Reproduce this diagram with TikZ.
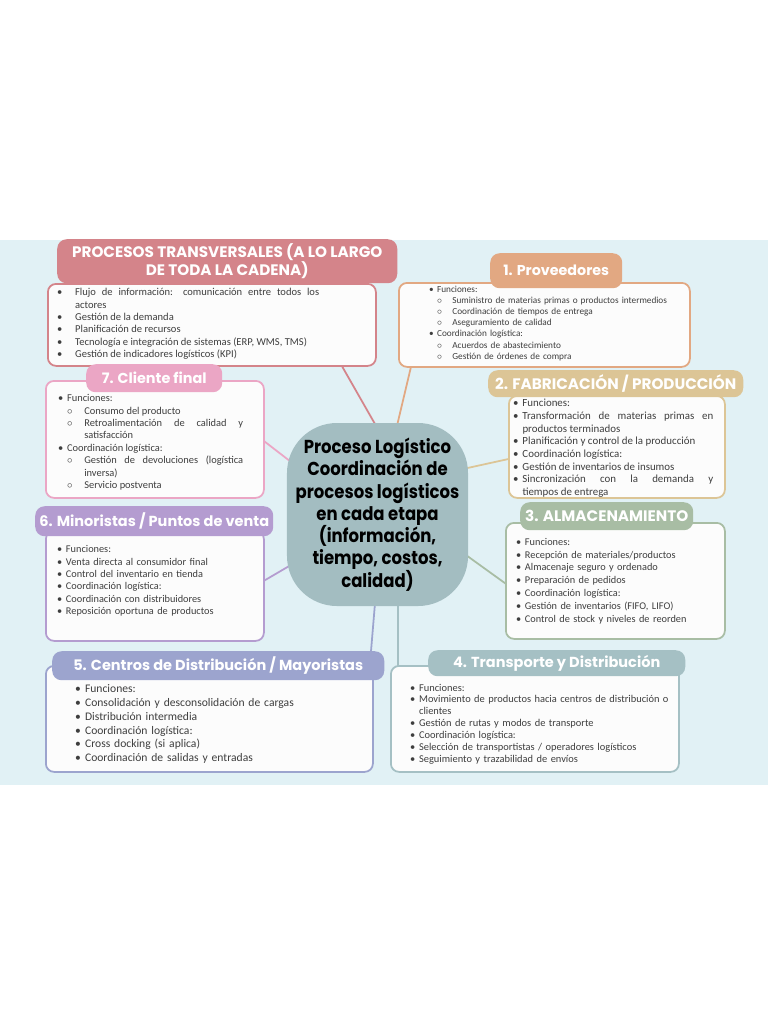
\documentclass[tikz,border=0pt]{standalone}
\usepackage{fontspec}
\setmainfont{Carlito}
\newfontfamily\titlefont{Poppins}
\newfontfamily\hubfont{Poppins}[FakeStretch=0.88]
\usetikzlibrary{positioning, calc, backgrounds}

\definecolor{bgblue}{RGB}{225,241,245}
\definecolor{rosec}{RGB}{212,132,138}
\definecolor{tanc}{RGB}{226,168,130}
\definecolor{pinkc}{RGB}{235,166,197}
\definecolor{beigec}{RGB}{220,197,150}
\definecolor{sagec}{RGB}{168,189,164}
\definecolor{purplec}{RGB}{180,156,208}
\definecolor{peric}{RGB}{156,164,206}
\definecolor{tealc}{RGB}{165,192,196}
\definecolor{hubc}{RGB}{163,189,193}
\definecolor{bodytext}{RGB}{62,62,62}
\definecolor{boxfill}{RGB}{252,252,252}

\def\bind{0.85em}
\newcommand\bitem[1]{\par\noindent\hangindent=\bind\hangafter=1\makebox[\bind][l]{\textbullet}#1}
\newcommand\sitem[1]{\par\noindent\hangindent=2.5em\hangafter=1\hspace*{0.85em}\makebox[1.65em][l]{$\circ$}#1}

\tikzset{
	bodybox/.style={draw, line width=1.5pt, rounded corners=7pt, fill=boxfill, anchor=north west, inner sep=0pt},
	titlebox/.style={rounded corners=8pt, anchor=north west, inner sep=0pt, text=white, align=center},
	bodytxt/.style={anchor=north west, inner sep=0pt, text=bodytext, align=justify},
	hubbox/.style={fill=hubc, rounded corners=1.5cm, inner sep=0pt, align=center,
		minimum width=5.43cm, minimum height=5.49cm},
	link/.style={line width=1.5pt},
}

\begin{document}
\begin{tikzpicture}[x=0.03cm, y=-0.03cm]
	\useasboundingbox (0,0) rectangle (768,1024);
	
	\node[hubbox, font=\hubfont\bfseries\fontsize{16}{19}\selectfont] (hub) at (377.5,514.5)
	{Proceso Logístico\\Coordinación de\\procesos logísticos\\en cada etapa\\(información,\\tiempo, costos,\\calidad)};
	
	% procesos transversales
	\node[bodybox, draw=rosec, minimum width=9.84cm, minimum height=2.46cm] (transvbox) at (47,283) {};
	\node[bodytxt, text width=7.86cm, font=\fontsize{9}{10.6}\selectfont\def\bind{1.7em}] (transvtxt) at (57,283)
	{\bitem{Flujo de información: comunicación entre todos los\linebreak actores}
		\bitem{Gestión de la demanda}
		\bitem{Planificación de recursos}
		\bitem{Tecnología e integración de sistemas (ERP, WMS, TMS)}
		\bitem{Gestión de indicadores logísticos (KPI)}\par};
	\node[titlebox, fill=rosec, minimum width=10.2cm, minimum height=1.32cm,
	font=\titlefont\bfseries\fontsize{13}{16}\selectfont] (transvtitle) at (57,239)
	{PROCESOS TRANSVERSALES (A LO LARGO\\DE TODA LA CADENA)};
	
	% 1. proveedores
	\node[bodybox, draw=tanc, minimum width=8.73cm, minimum height=2.52cm] (provbox) at (398,282) {};
	\node[bodytxt, text width=8cm, align=left, font=\fontsize{7.9}{9.5}\selectfont] (provtxt) at (429,281)
	{\bitem{Funciones:}
		\sitem{Suministro de materias primas o productos intermedios}
		\sitem{Coordinación de tiempos de entrega}
		\sitem{Aseguramiento de calidad}
		\bitem{Coordinación logística:}
		\sitem{Acuerdos de abastecimiento}
		\sitem{Gestión de órdenes de compra}\par};
	\node[titlebox, fill=tanc, minimum width=3.96cm, minimum height=1.05cm,
	font=\titlefont\bfseries\fontsize{12.2}{14}\selectfont] (provtitle) at (490,253) {1. Proveedores};
	
	% 7. cliente final
	\node[bodybox, draw=pinkc, minimum width=6.54cm, minimum height=3.51cm] (clientebox) at (45,380) {};
	\node[bodytxt, text width=5.55cm, font=\fontsize{8.9}{10.6}\selectfont] (clientetxt) at (58,389)
	{\bitem{Funciones:}
		\sitem{Consumo del producto}
		\sitem{Retroalimentación de calidad y\linebreak satisfacción}
		\bitem{Coordinación logística:}
		\sitem{Gestión de devoluciones (logística\linebreak inversa)}
		\sitem{Servicio postventa}\par};
	\node[titlebox, fill=pinkc, minimum width=4.08cm, minimum height=0.84cm,
	font=\titlefont\bfseries\fontsize{12.3}{14}\selectfont] (clientetitle) at (86,364) {7. Cliente final};
	
	% 2. fabricacion
	\node[bodybox, draw=beigec, minimum width=6.48cm, minimum height=3.06cm] (fabbox) at (508,395) {};
	\node[bodytxt, text width=6cm, font=\fontsize{9.3}{10.8}\selectfont] (fabtxt) at (513,394)
	{\bitem{Funciones:}
		\bitem{Transformación de materias primas en\linebreak productos terminados}
		\bitem{Planificación y control de la producción}
		\bitem{Coordinación logística:}
		\bitem{Gestión de inventarios de insumos}
		\bitem{Sincronización con la demanda y\linebreak tiempos de entrega}\par};
	\node[titlebox, fill=beigec, minimum width=7.65cm, minimum height=0.81cm,
	font=\titlefont\bfseries\fontsize{13}{14}\selectfont] (fabtitle) at (488,370) {2. FABRICACIÓN / PRODUCCIÓN};
	
	% 6. minoristas
	\node[bodybox, draw=purplec, minimum width=6.54cm, minimum height=3.3cm] (minbox) at (45,530) {};
	\node[bodytxt, text width=6cm, align=left, font=\fontsize{8.8}{10.6}\selectfont] (mintxt) at (57,540)
	{\bitem{Funciones:}
		\bitem{Venta directa al consumidor final}
		\bitem{Control del inventario en tienda}
		\bitem{Coordinación logística:}
		\bitem{Coordinación con distribuidores}
		\bitem{Reposición oportuna de productos}\par};
	\node[titlebox, fill=purplec, minimum width=7.14cm, minimum height=0.9cm,
	font=\titlefont\bfseries\fontsize{12.4}{14}\selectfont] (mintitle) at (35,506) {6. Minoristas / Puntos de venta};
	
	% 3. almacenamiento
	\node[bodybox, draw=sagec, minimum width=6.57cm, minimum height=3.48cm] (almbox) at (505,522) {};
	\node[bodytxt, text width=6cm, align=left, font=\fontsize{8.8}{11}\selectfont] (almtxt) at (516,532)
	{\bitem{Funciones:}
		\bitem{Recepción de materiales/productos}
		\bitem{Almacenaje seguro y ordenado}
		\bitem{Preparación de pedidos}
		\bitem{Coordinación logística:}
		\bitem{Gestión de inventarios (FIFO, LIFO)}
		\bitem{Control de stock y niveles de reorden}\par};
	\node[titlebox, fill=sagec, minimum width=5.19cm, minimum height=0.84cm,
	font=\titlefont\bfseries\fontsize{13}{14}\selectfont] (almtitle) at (520,502) {3. ALMACENAMIENTO};
	
	% 5. centros de distribucion
	\node[bodybox, draw=peric, minimum width=9.81cm, minimum height=3.18cm] (centbox) at (45,665) {};
	\node[bodytxt, text width=8.4cm, align=left, font=\fontsize{9.9}{11.9}\selectfont] (centtxt) at (75,678)
	{\bitem{Funciones:}
		\bitem{Consolidación y desconsolidación de cargas}
		\bitem{Distribución intermedia}
		\bitem{Coordinación logística:}
		\bitem{Cross docking (si aplica)}
		\bitem{Coordinación de salidas y entradas}\par};
	\node[titlebox, fill=peric, minimum width=9.96cm, minimum height=0.87cm,
	font=\titlefont\bfseries\fontsize{12.4}{14}\selectfont] (centtitle) at (52,651) {5. Centros de Distribución / Mayoristas};
	
	% 4. transporte
	\node[bodybox, draw=tealc, minimum width=8.64cm, minimum height=3.18cm] (transpbox) at (390,665) {};
	\node[bodytxt, text width=8.25cm, align=left, font=\fontsize{8.9}{10.1}\selectfont] (transptxt) at (410,679)
	{\bitem{Funciones:}
		\bitem{Movimiento de productos hacia centros de distribución o\newline clientes}
		\bitem{Gestión de rutas y modos de transporte}
		\bitem{Coordinación logística:}
		\bitem{Selección de transportistas / operadores logísticos}
		\bitem{Seguimiento y trazabilidad de envíos}\par};
	\node[titlebox, fill=tealc, minimum width=7.71cm, minimum height=0.78cm,
	font=\titlefont\bfseries\fontsize{12.4}{14}\selectfont] (transptitle) at (428,650) {4. Transporte y Distribución};
	
	\begin{scope}[on background layer]
		\fill[bgblue] (0,240) rectangle (768,785);
		\draw[link, rosec] ($(hub.north)+(-1.5,3)$) -- ($(transvbox.south east)+(-35,-1)$);
		\draw[link, tanc] ($(hub.north)+(19.5,3)$) -- ($(provbox.south west)+(13,-1)$);
		\draw[link, pinkc] ($(hub.west)+(5,-52)$) -- ($(clientebox.east)+(-1,1.5)$);
		\draw[link, beigec] ($(hub.east)+(-3,-46)$) -- ($(fabbox.west)+(1,12)$);
		\draw[link, purplec] ($(hub.west)+(5,50)$) -- ($(minbox.east)+(-1,-5)$);
		\draw[link, sagec] ($(hub.east)+(-3,40)$) -- ($(almbox.west)+(1,3)$);
		\draw[link, peric] ($(hub.south)+(-2.5,-3)$) -- ($(centbox.north east)+(-4,1)$);
		\draw[link, tealc] ($(hub.south)+(20.5,-3)$) -- ($(transpbox.north west)+(8,1)$);
	\end{scope}
\end{tikzpicture}
\end{document}
